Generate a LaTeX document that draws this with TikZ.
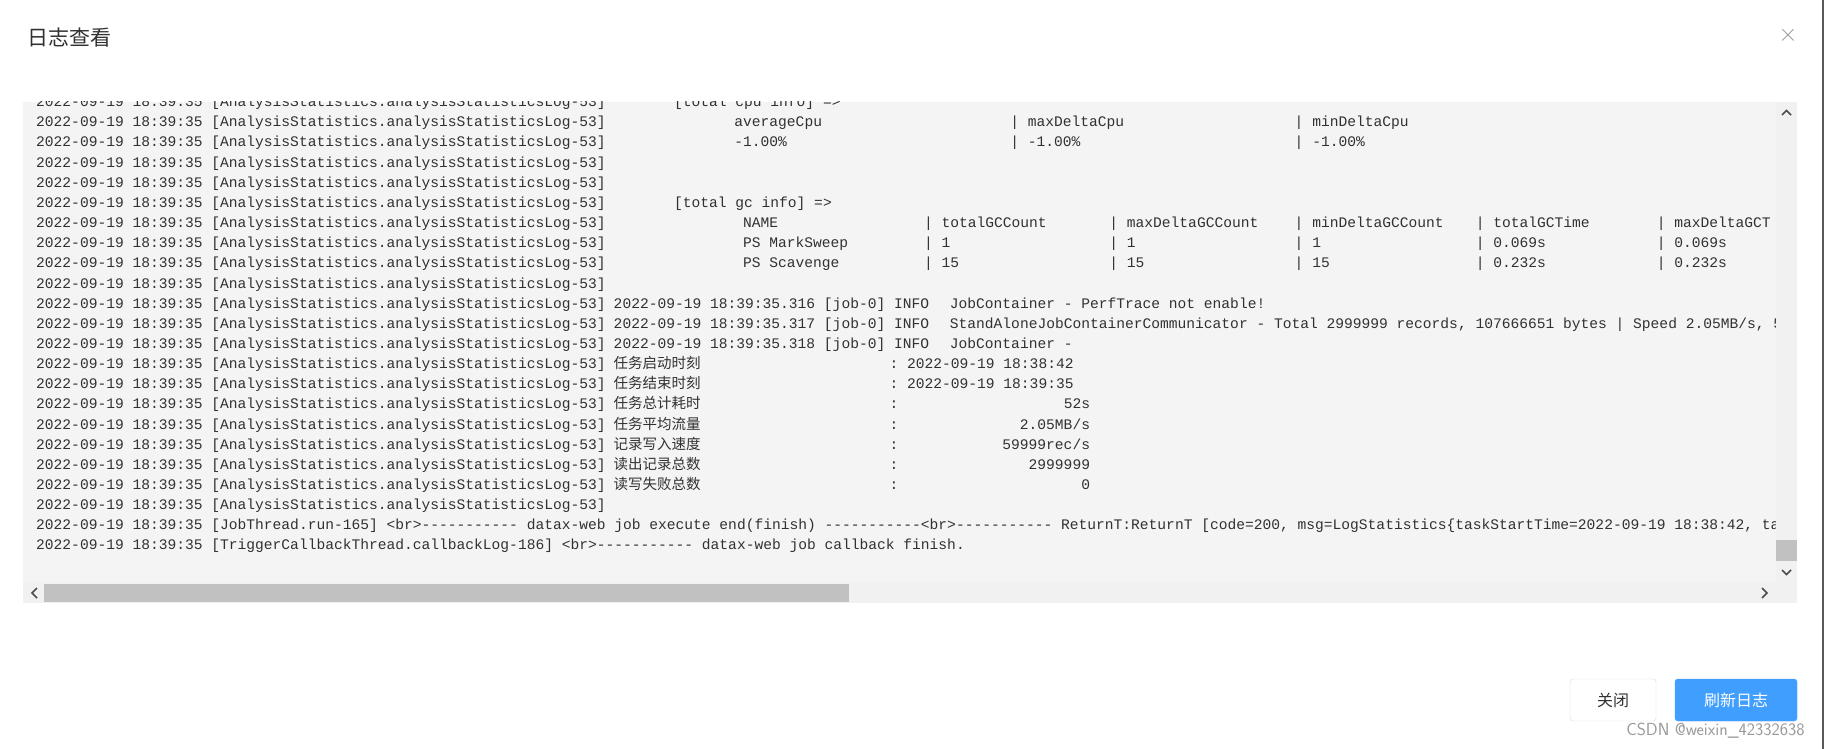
\documentclass[tikz,border=0pt]{standalone}
\usepackage{fontspec}
\setmonofont{Liberation Mono}
\newfontfamily\cjk{Noto Sans CJK SC}
\definecolor{txt}{HTML}{303133}
\definecolor{logbg}{HTML}{F4F4F4}
\definecolor{barbg}{HTML}{F1F1F1}
\definecolor{thumb}{HTML}{C1C1C1}
\definecolor{blue}{HTML}{409EFF}
\newcommand\PRE{2022-09-19 18:39:35 [AnalysisStatistics.analysisStatisticsLog-53]}
\newcommand\LL[3]{\node[logt] at ({36+#2*8.62},{123.3+(#1-1)*20.15}) {#3};}
\newcommand\LR[3]{\node[logt,anchor=east] at ({36+#2*8.62},{123.3+(#1-1)*20.15}) {#3};}
\newcommand\LC[3]{\node[logt] at ({36+#2*8.62},{123.3+(#1-1)*20.15}) {\cjk\fontsize{14.5}{16}\selectfont #3};}
\begin{document}
\begin{tikzpicture}[x=1pt,y=-1pt,
  logt/.style={anchor=west,inner sep=0,text=txt,font=\ttfamily\fontsize{14.6}{16}\selectfont,text height=10,text depth=3},
  chev/.style={draw=gray!60!black,line width=1.6},
  btn/.style={draw=#1,rounded corners=3,minimum width=86,minimum height=42,font=\cjk\fontsize{16}{18}\selectfont}]
\useasboundingbox[fill=white] (0,0) rectangle (1824,749);
\draw[gray!70!black,line width=1.5] (1823,0) -- (1823,749);
\node[anchor=west,text=txt,font=\cjk\fontsize{21}{24}\selectfont] (title) at (24,38) {日志查看};
\node[text=gray!80,font=\fontsize{26}{26}\selectfont] (close) at (1788,35) {$\times$};
% log area
\fill[logbg] (23,102) rectangle (1797,603);
\begin{scope}
\clip (23,102) rectangle (1776,582);
\LL{0}{0}{\PRE}\LL{0}{74}{[total cpu info] =>}
\LL{1}{0}{\PRE}\LL{1}{81}{averageCpu}\LL{1}{113}{| maxDeltaCpu}\LL{1}{146}{| minDeltaCpu}
\LL{2}{0}{\PRE}\LL{2}{81}{-1.00\%}\LL{2}{113}{| -1.00\%}\LL{2}{146}{| -1.00\%}
\LL{3}{0}{\PRE}
\LL{4}{0}{\PRE}
\LL{5}{0}{\PRE}\LL{5}{74}{[total gc info] =>}
\LL{6}{0}{\PRE}\LL{6}{82}{NAME}\LL{6}{103}{| totalGCCount}\LL{6}{124.5}{| maxDeltaGCCount}\LL{6}{146}{| minDeltaGCCount}\LL{6}{167}{| totalGCTime}\LL{6}{188}{| maxDeltaGCT}
\LL{7}{0}{\PRE}\LL{7}{82}{PS MarkSweep}\LL{7}{103}{| 1}\LL{7}{124.5}{| 1}\LL{7}{146}{| 1}\LL{7}{167}{| 0.069s}\LL{7}{188}{| 0.069s}
\LL{8}{0}{\PRE}\LL{8}{82}{PS Scavenge}\LL{8}{103}{| 15}\LL{8}{124.5}{| 15}\LL{8}{146}{| 15}\LL{8}{167}{| 0.232s}\LL{8}{188}{| 0.232s}
\LL{9}{0}{\PRE}
\LL{10}{0}{\PRE}\LL{10}{67}{2022-09-19 18:39:35.316 [job-0] INFO}\LL{10}{106}{JobContainer - PerfTrace not enable!}
\LL{11}{0}{\PRE}\LL{11}{67}{2022-09-19 18:39:35.317 [job-0] INFO}\LL{11}{106}{StandAloneJobContainerCommunicator - Total 2999999 records, 107666651 bytes | Speed 2.05MB/s, 5}
\LL{12}{0}{\PRE}\LL{12}{67}{2022-09-19 18:39:35.318 [job-0] INFO}\LL{12}{106}{JobContainer -}
\LL{13}{0}{\PRE}\LC{13}{67}{任务启动时刻}\LL{13}{99}{: 2022-09-19 18:38:42}
\LL{14}{0}{\PRE}\LC{14}{67}{任务结束时刻}\LL{14}{99}{: 2022-09-19 18:39:35}
\LL{15}{0}{\PRE}\LC{15}{67}{任务总计耗时}\LL{15}{99}{:}\LR{15}{122.3}{52s}
\LL{16}{0}{\PRE}\LC{16}{67}{任务平均流量}\LL{16}{99}{:}\LR{16}{122.3}{2.05MB/s}
\LL{17}{0}{\PRE}\LC{17}{67}{记录写入速度}\LL{17}{99}{:}\LR{17}{122.3}{59999rec/s}
\LL{18}{0}{\PRE}\LC{18}{67}{读出记录总数}\LL{18}{99}{:}\LR{18}{122.3}{2999999}
\LL{19}{0}{\PRE}\LC{19}{67}{读写失败总数}\LL{19}{99}{:}\LR{19}{122.3}{0}
\LL{20}{0}{\PRE}
\LL{21}{0}{2022-09-19 18:39:35 [JobThread.run-165] <br>-{}-{}-{}-{}-{}-{}-{}-{}-{}-{}- datax-web job execute end(finish) -{}-{}-{}-{}-{}-{}-{}-{}-{}-{}-<br>-{}-{}-{}-{}-{}-{}-{}-{}-{}-{}- ReturnT:ReturnT [code=200, msg=LogStatistics\{taskStartTime=2022-09-19 18:38:42, ta}
\LL{22}{0}{2022-09-19 18:39:35 [TriggerCallbackThread.callbackLog-186] <br>-{}-{}-{}-{}-{}-{}-{}-{}-{}-{}- datax-web job callback finish.}
\end{scope}
% vertical scrollbar
\fill[barbg] (1776,102) rectangle (1797,582);
\fill[thumb] (1776,540) rectangle (1797,561);
\draw[chev] (1782,115) -- (1786.5,110.5) -- (1791,115);
\draw[chev] (1782,570) -- (1786.5,574.5) -- (1791,570);
% horizontal scrollbar
\fill[barbg] (23,582) rectangle (1797,603);
\fill[thumb] (44,584) rectangle (849,602);
\draw[chev] (37,588) -- (32,593) -- (37,598);
\draw[chev] (1762,588) -- (1767,593) -- (1762,598);
% buttons
\node[btn=gray!30,fill=white,text=txt] (b1) at (1613,700) {关闭};
\node[btn=blue,fill=blue,text=white,minimum width=122] (b2) at (1736,700) {刷新日志};
\node[anchor=east,text=gray!80,font=\fontsize{17.5}{19}\selectfont\sffamily] (wm) at (1808,731) {CSDN @weixin\_42332638};
\end{tikzpicture}
\end{document}
